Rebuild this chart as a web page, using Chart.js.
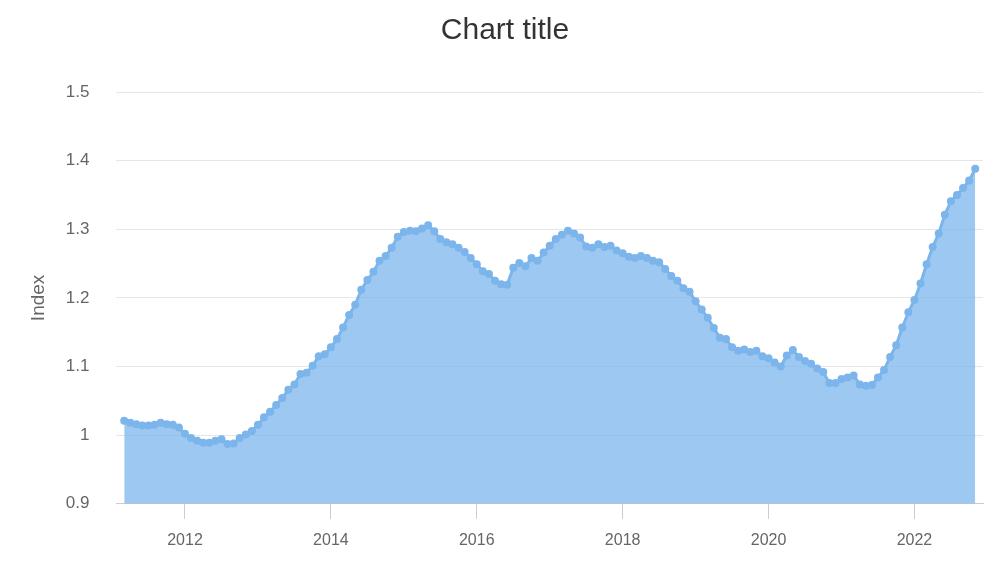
<!DOCTYPE html>
<html>
<head>
<meta charset="utf-8">
<title>Chart title</title>
<script src="https://cdn.jsdelivr.net/npm/chart.js@4/dist/chart.umd.min.js"></script>
<style>
  html, body { margin: 0; padding: 0; background: #fff; }
  #wrap { width: 1000px; height: 583px; }
</style>
</head>
<body>
<div id="wrap"><canvas id="indexChart"></canvas></div>
<script>
// Monthly series, Mar 2011 .. Nov 2022
const startYear = 2011;
const startMonth = 3;
const indexValues = [
  1.021, 1.018, 1.016, 1.014, 1.014, 1.015, 1.018, 1.016, 1.015, 1.011,
  1.002, 0.996, 0.992, 0.989, 0.989, 0.992, 0.994, 0.987, 0.988, 0.996,
  1.001, 1.006, 1.015, 1.026, 1.034, 1.044, 1.054, 1.066,
  1.074, 1.089, 1.091, 1.101, 1.115, 1.118, 1.128, 1.140, 1.157, 1.175,
  1.190, 1.212, 1.226, 1.238, 1.254, 1.261, 1.273, 1.289, 1.296, 1.298,
  1.297, 1.301, 1.306, 1.297, 1.286, 1.281, 1.278, 1.273,
  1.267, 1.258, 1.249, 1.239, 1.235, 1.225, 1.220, 1.219, 1.244, 1.251,
  1.246, 1.258, 1.254, 1.266, 1.276, 1.286, 1.292, 1.298, 1.294, 1.288,
  1.275, 1.273, 1.278, 1.274, 1.276, 1.269, 1.265, 1.260,
  1.258, 1.261, 1.258, 1.254, 1.252, 1.242, 1.232, 1.225, 1.214, 1.209,
  1.195, 1.183, 1.171, 1.156, 1.142, 1.140, 1.128, 1.123, 1.125, 1.121,
  1.123, 1.115, 1.112, 1.106, 1.100, 1.116, 1.124, 1.114,
  1.108, 1.104, 1.097, 1.092, 1.076, 1.076, 1.082, 1.084, 1.087, 1.074,
  1.072, 1.073, 1.084, 1.095, 1.114, 1.131, 1.157, 1.179, 1.197, 1.221,
  1.249, 1.274, 1.294, 1.321, 1.341, 1.350, 1.360, 1.371, 1.388
];

// Axis ticks
const yearTicks = [2012, 2014, 2016, 2018, 2020, 2022];
const yTicks = [0.9, 1, 1.1, 1.2, 1.3, 1.4, 1.5];

// month index -> decimal year
const points = indexValues.map((v, i) => ({
  x: startYear + (startMonth - 1 + i) / 12,
  y: v
}));

const fontFamily = '"Liberation Sans", Arial, Helvetica, sans-serif';

new Chart(document.getElementById("indexChart"), {
  type: 'line',
  data: {
    datasets: [{
      label: "Index",
      data: points,
      borderColor: "#7cb5ec",
      backgroundColor: "rgba(124,181,236,0.75)",
      borderWidth: 3,
      pointRadius: 4,
      pointBackgroundColor: "#7cb5ec",
      pointBorderWidth: 0,
      pointHoverRadius: 4,
      tension: 0,
      fill: 'start'
    }]
  },
  options: {
    responsive: true,
    maintainAspectRatio: false,
    animation: false,
    layout: { padding: { top: 13, left: 27, right: 17, bottom: 21 } },
    plugins: {
      legend: { display: false },
      tooltip: { enabled: false },
      title: {
        display: true,
        text: "Chart title",
        color: "#333333",
        font: { family: fontFamily, size: 30, weight: 'normal' },
        padding: { top: 0, bottom: 43 }
      }
    },
    scales: {
      x: {
        type: 'linear',
        min: 2011.06,
        max: 2022.94,
        afterBuildTicks: (scale) => {
          scale.ticks = yearTicks.map(v => ({ value: v }));
        },
        ticks: {
          color: "#666666",
          font: { family: fontFamily, size: 16 },
          padding: 12,
          maxRotation: 0,
          callback: (v) => String(v)
        },
        grid: {
          drawOnChartArea: false,
          drawTicks: true,
          tickLength: 15,
          tickColor: "#cccccc"
        },
        border: { display: true, color: "#cccccc", width: 1 }
      },
      y: {
        min: 0.9,
        max: 1.5,
        afterBuildTicks: (scale) => {
          scale.ticks = yTicks.map(v => ({ value: v }));
        },
        ticks: {
          color: "#666666",
          font: { family: fontFamily, size: 17 },
          padding: 27,
          callback: (v) => String(v)
        },
        grid: { color: "#e6e6e6", drawTicks: false },
        border: { display: false },
        title: {
          display: true,
          text: "Index",
          color: "#666666",
          font: { family: fontFamily, size: 19 },
          padding: { top: 0, bottom: -11 }
        }
      }
    }
  }
});
</script>
</body>
</html>
